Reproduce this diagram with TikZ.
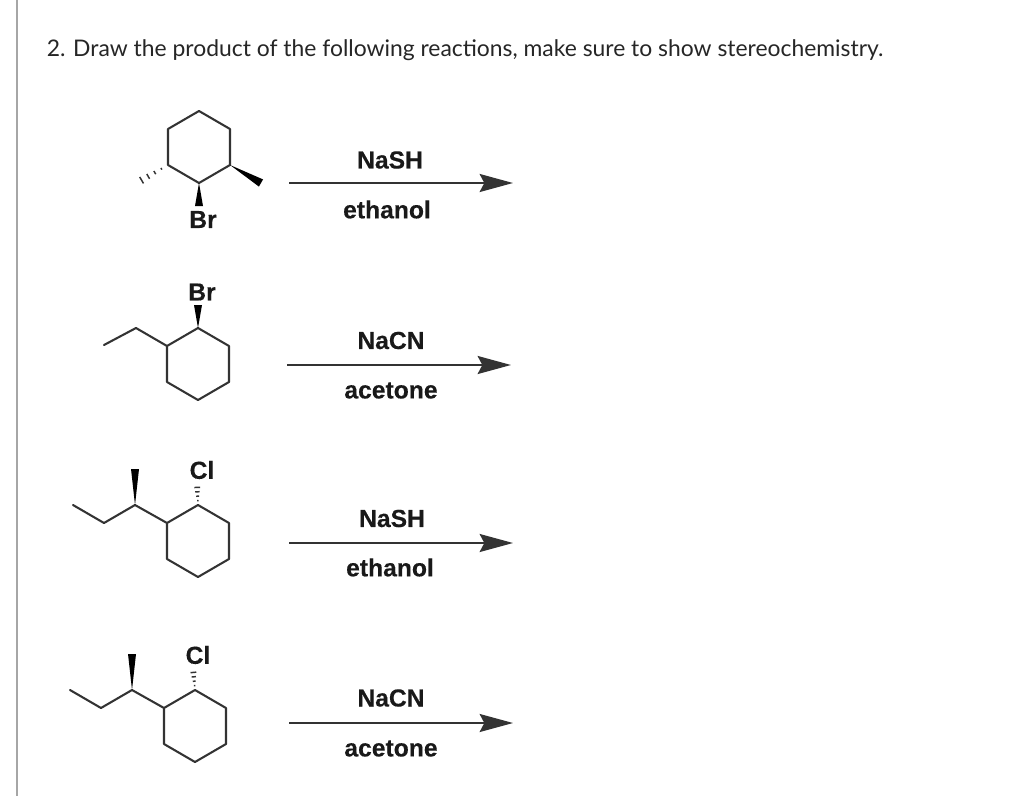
\documentclass[tikz,border=0pt]{standalone}
\usepackage{fontspec}
\setmainfont{Lato}
\newfontfamily\labelfont{Liberation Sans}[BoldFeatures={FakeBold=0.25}]
\usetikzlibrary{arrows.meta,calc}
\tikzset{
  bond/.style={line width=1.55pt,black!80,line join=round,line cap=round},
  wedge/.style={fill=black,draw=none},
  hash/.style={line width=1.1pt,black!80},
  atom/.style={font=\labelfont\bfseries\fontsize{18.5}{20}\selectfont,inner sep=0pt,text=black!90},
  reagent/.style={font=\labelfont\bfseries\fontsize{18.5}{20}\selectfont,inner sep=0pt,text=black!90},
  rxnarrow/.style={line width=1.55pt,black!80,-{Stealth[length=25pt,width=13.5pt,inset=3.5pt]}}
}
\newcommand{\wedgebond}[3]{% narrow end, wide end, half width
  \fill[wedge] (#1) -- ($(#2)!#3!90:(#1)$) -- ($(#2)!#3!-90:(#1)$) -- cycle;}
\newcommand{\hashbond}[3]{% narrow end, wide end, half width
  \foreach \t in {0.2,0.4,0.6,0.8,1.0}
    \draw[hash] ($(#1)!\t!(#2)!\t*#3!90:(#2)$) -- ($(#1)!\t!(#2)!\t*#3!-90:(#2)$);}
\begin{document}
\begin{tikzpicture}[x=0.75pt,y=-0.75pt]
\useasboundingbox (0,0) rectangle (1024,796);
\fill[white] (0,0) rectangle (1024,796);
\draw[line width=1.5pt,black!35] (17,0) coordinate (ruletop) -- (17,796) coordinate (rulebot);
\node[anchor=base west,inner sep=0pt,font=\fontsize{17.16}{22}\selectfont,text=black!85] (title) at (46.5,56)
  {2. Draw the product of the following reactions, make sure to show stereochemistry.};
% rings
\foreach \m/\cx/\cy in {a/199/147, b/198/364, c/198/541, d/195/726}{
  \foreach \i/\dx/\dy in {1/0/-36, 2/31/-18, 3/31/18, 4/0/36, 5/-31/18, 6/-31/-18}
    \coordinate (\m\i) at (\cx+\dx,\cy+\dy);
  \draw[bond] (\m1) -- (\m2) -- (\m3) -- (\m4) -- (\m5) -- (\m6) -- cycle;
}
% first one
\coordinate (aw1) at (199,206);
\coordinate (aw2) at (261,183);
\coordinate (ah) at (135,184);
\wedgebond{a4}{aw1}{3pt}
\wedgebond{a3}{aw2}{3.1pt}
\hashbond{a5}{ah}{3.5pt}
\node[atom] (br1) at (203,219.5) {Br};
% second one
\coordinate (bc1) at (136,328);
\coordinate (bc2) at (104,345);
\coordinate (bw) at (198,305);
\draw[bond] (b6) -- (bc1) -- (bc2);
\wedgebond{b1}{bw}{3pt}
\node[atom] (br2) at (202,292) {Br};
% third and fourth
\foreach \m/\x/\y/\lx/\ly in {c/135/505/202/470, d/132/690/198/655}{
  \coordinate (\m c1) at (\x,\y);
  \coordinate (\m c2) at (\x-31,\y+18);
  \coordinate (\m c3) at (\x-62,\y);
  \coordinate (\m w) at (\x,\y-36);
  \coordinate (\m h) at (\lx-5,\ly+13);
  \draw[bond] (\m6) -- (\m c1) -- (\m c2) -- (\m c3);
  \wedgebond{\m c1}{\m w}{3pt}
  \hashbond{\m1}{\m h}{2.7pt}
  \node[atom] (cl\m) at (\lx,\ly) {Cl};
}
% reactions
\foreach \n/\x/\y/\top/\tx/\ty/\bot/\bx/\by in {1/289/183/NaSH/390/160/ethanol/387/209.5, 2/287/365/NaCN/391/340.5/acetone/391/390.5, 3/289/543/NaSH/392/518.5/ethanol/390/567.5, 4/289/723/NaCN/391/698/acetone/391/748.5}{
  \coordinate (s\n) at (\x,\y);
  \coordinate (e\n) at (\x+224,\y);
  \draw[rxnarrow] (s\n) -- (e\n);
  \node[reagent] (up\n) at (\tx,\ty) {\top};
  \node[reagent] (lo\n) at (\bx,\by) {\bot};
}
\end{tikzpicture}
\end{document}
